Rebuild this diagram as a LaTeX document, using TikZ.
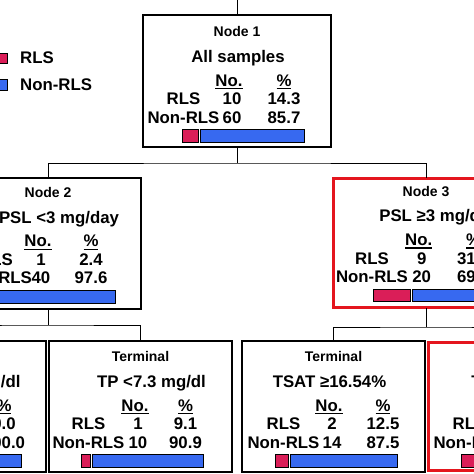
\documentclass[tikz,border=0pt]{standalone}
\usepackage{fontspec}
\setmainfont{Liberation Sans}
\definecolor{rlsred}{RGB}{218,30,88}
\definecolor{nonblue}{RGB}{55,105,240}
\definecolor{boxred}{RGB}{228,22,30}
\newcommand\myul[1]{\setbox0\hbox{#1}\rlap{\rule[-3pt]{\wd0}{1.3pt}}\box0}
\newcommand\BoxSet[8]{\def\bx{#1}\def\hy{#2}\def\tdx{#3}\def\lbx{#4}\def\numx{#5}\def\pctx{#6}\def\barx{#7}\def\redw{#8}}
\newcommand\BoxFill[7]{%
  \node[hd] (#1-hd) at ({\bx},{\hy}) {#2};
  \node[tx] (#1-tt) at ({\bx+(\tdx)},{\hy+25.7}) {#3};
  \node[tx] (#1-no) at ({\bx+(\numx)-3},{\hy+49.5}) {\myul{No.}};
  \node[tx] (#1-pc) at ({\bx+(\pctx)},{\hy+49.5}) {\myul{\%}};
  \node[tx] (#1-l1) at ({\bx+(\lbx)},{\hy+68}) {RLS};
  \node[tx] (#1-n1) at ({\bx+(\numx)},{\hy+68}) {#4};
  \node[tx] (#1-p1) at ({\bx+(\pctx)},{\hy+68}) {#5};
  \node[tx] (#1-l2) at ({\bx+(\lbx)},{\hy+86.5}) {Non-RLS};
  \node[tx] (#1-n2) at ({\bx+(\numx)},{\hy+86.5}) {#6};
  \node[tx] (#1-p2) at ({\bx+(\pctx)},{\hy+86.5}) {#7};
  \ifdim\redw pt>0pt
    \draw[redbar] ({\bx+(\barx)},{\hy+93}) rectangle ({\bx+(\barx)+\redw},{\hy+105.5});
    \draw[bluebar] ({\bx+(\barx)+\redw+2},{\hy+93}) rectangle ({\bx+(\barx)+122},{\hy+105.5});
  \else
    \draw[bluebar] ({\bx+(\barx)},{\hy+93}) rectangle ({\bx+(\barx)+122},{\hy+105.5});
  \fi
}
\tikzset{
  tx/.style={inner sep=0pt, anchor=base, font=\fontsize{16.8}{18}\selectfont\bfseries},
  hd/.style={inner sep=0pt, anchor=base, font=\fontsize{14}{16}\selectfont\bfseries},
  box/.style={draw=black, line width=1.2pt, fill=white, inner sep=0pt, outer sep=0pt},
  redbox/.style={draw=boxred, line width=2.8pt, fill=white, inner sep=0pt, outer sep=0pt},
  conn/.style={draw=black, line width=1pt},
  redbar/.style={fill=rlsred, draw=black, line width=0.6pt},
  bluebar/.style={fill=nonblue, draw=black, line width=0.6pt}
}
\begin{document}
\begin{tikzpicture}[x=1pt, y=-1pt]
\useasboundingbox (0,0) rectangle (474,474);
\fill[white] (0,0) rectangle (474,474);

% boxes
\node[box, minimum width=188pt, minimum height=132pt] (n1) at (237,81) {};
\node[box, minimum width=186pt, minimum height=131pt] (n2) at (48,243.5) {};
\node[redbox, minimum width=185.2pt, minimum height=129.2pt] (n3) at (426,243) {};
\node[box, minimum width=183pt, minimum height=131pt] (n4) at (-45.5,406.5) {};
\node[box, minimum width=183pt, minimum height=131pt] (n5) at (140.5,406.5) {};
\node[box, minimum width=183pt, minimum height=131pt] (n6) at (333.5,406.5) {};
\node[redbox, minimum width=180.2pt, minimum height=128.2pt] (n7) at (518.5,406.5) {};

% connectors
\coordinate (top) at (237,0);
\coordinate (j1) at (237,163);
\coordinate (j2) at (48,325);
\coordinate (j3) at (426,327);
\draw[conn] (top) -- (n1.north);
\draw[conn] (n1.south) -- (j1);
\draw[conn] (n2.north) |- (j1) -| (n3.north);
\draw[conn] (n2.south) -- (j2);
\draw[conn] (n4.north) |- (j2) -| (n5.north);
\draw[conn] (n3.south) -- (j3);
\draw[conn] (n6.north) |- (j3) -| (n7.north);

% contents  bx, hy, title dx, label dx, number dx, pct dx, bar dx, red width
\BoxSet{237}{36.7}{1}{-53.5}{-5}{47}{-54.3}{15.6}
\BoxFill{n1}{Node 1}{All samples}{10}{14.3}{60}{85.7}
\BoxSet{48}{197.3}{11}{-52}{-7}{43}{-55}{3}
\BoxFill{n2}{Node 2}{PSL <3 mg/day}{1}{2.4}{40}{97.6}
\BoxSet{426}{196}{13}{-54}{-4.3}{47.5}{-53}{37}
\BoxFill{n3}{Node 3}{PSL ≥3 mg/day}{9}{31.0}{20}{69.0}
\BoxSet{-45.5}{361.5}{12}{-52}{-4}{49.5}{-55.5}{0}
\BoxFill{n4}{Terminal}{TP ≥7.3 mg/dl}{0}{0.0}{30}{100.0}
\BoxSet{140.5}{361.5}{11}{-52}{-2.5}{45}{-58.8}{8.3}
\BoxFill{n5}{Terminal}{TP <7.3 mg/dl}{1}{9.1}{10}{90.9}
\BoxSet{333.5}{361.5}{-4}{-50}{-1.5}{49.5}{-58.5}{13}
\BoxFill{n6}{Terminal}{TSAT ≥16.54\%}{2}{12.5}{14}{87.5}
\BoxSet{518.5}{361.5}{10}{-49}{-4}{47}{-57.5}{65}
\BoxFill{n7}{Terminal}{TSAT <16.54\%}{7}{53.8}{6}{46.2}

% legend
\draw[redbar] (-3.5,53) rectangle (7.3,63.3);
\draw[bluebar] (-3.5,79) rectangle (7.3,90);
\node[tx, anchor=base west] (lg1) at (20,63.3) {RLS};
\node[tx, anchor=base west] (lg2) at (20,90) {Non-RLS};
\end{tikzpicture}
\end{document}
